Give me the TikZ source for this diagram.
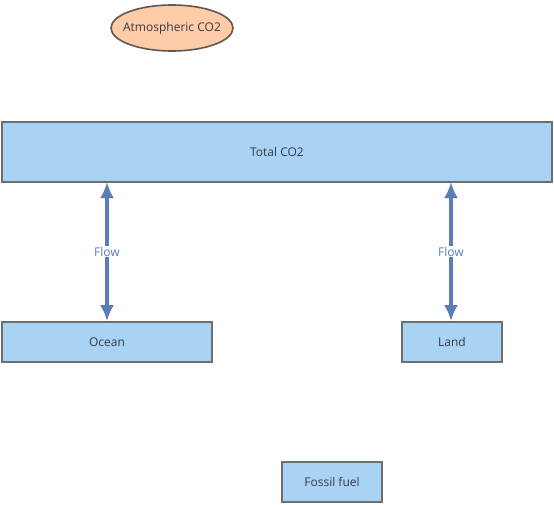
\documentclass[tikz,border=0pt]{standalone}
\usepackage{fontspec}
\setmainfont{Open Sans}
\usetikzlibrary{arrows.meta,shapes.geometric}
\definecolor{boxfill}{HTML}{A9D3F5}
\definecolor{boxline}{HTML}{6E6E6E}
\definecolor{ellfill}{HTML}{FFCBA8}
\definecolor{ellline}{HTML}{5E5852}
\definecolor{arrowc}{HTML}{5B7DB8}
\definecolor{txt}{HTML}{333A45}
\tikzset{
  boxnode/.style={draw=boxline, line width=1.6pt, fill=boxfill, inner sep=0pt, text=txt, font=\fontsize{12}{14}\selectfont},
  ellnode/.style={ellipse, draw=ellline, line width=1.6pt, fill=ellfill, inner xsep=-9pt, inner ysep=0pt, text=txt, font=\fontsize{12}{14}\selectfont},
  flowarrow/.style={draw=arrowc, line width=3.5pt, {Latex[length=16pt,width=14pt]}-{Latex[length=16pt,width=14pt]}},
  flowlabel/.style={fill=white, text=arrowc, inner sep=1pt, font=\fontsize{12}{14}\selectfont}
}
\begin{document}
\begin{tikzpicture}[x=1pt,y=-1pt]
\useasboundingbox (0,0) rectangle (554,504);
\node[ellnode, minimum width=122pt, minimum height=46pt] (atm) at (172,28) {Atmospheric CO2};
\node[boxnode, minimum width=550pt, minimum height=60pt] (total) at (277,152) {Total CO2};
\node[boxnode, minimum width=210pt, minimum height=40pt] (ocean) at (107,342) {Ocean};
\node[boxnode, minimum width=100pt, minimum height=40pt] (land) at (452,342) {Land};
\node[boxnode, minimum width=100pt, minimum height=40pt] (fossil) at (332,482) {Fossil fuel};
\coordinate (t1) at (107,182);
\coordinate (t2) at (451,182);
\draw[flowarrow] (t1) -- node[flowlabel] (f1) {Flow} (ocean.north -| t1);
\draw[flowarrow] (t2) -- node[flowlabel] (f2) {Flow} (land.north -| t2);
\end{tikzpicture}
\end{document}
